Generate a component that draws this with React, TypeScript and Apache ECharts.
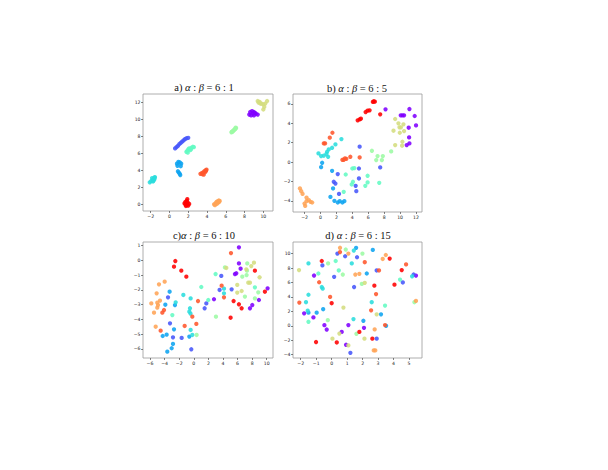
import React, { useEffect, useRef } from 'react';
import * as echarts from 'echarts';

// class colours (matplotlib "rainbow", 10 classes)
const classColors = ['#8000ff', '#4757fb', '#0ea4f0', '#2adddd', '#63fbc3', '#9cfba4', '#d4dd80', '#ffa457', '#ff572c', '#ff0000'];

// a) α:β = 6:1  (one list of points per class)
const panelA: number[][][] = [
  [[8.5,10.6],[8.6,10.9],[8.8,11.0],[9.0,10.9],[9.2,10.7],[9.4,10.6],[8.7,10.5],[9.0,10.5],[9.1,10.8],[8.9,10.7]],
  [[0.6,6.6],[0.75,6.75],[0.9,6.9],[1.05,7.1],[1.2,7.25],[1.35,7.4],[1.5,7.55],[1.65,7.7],[1.8,7.8],[2.0,7.85]],
  [[0.8,4.8],[0.95,5.0],[1.1,4.95],[1.25,4.8],[0.85,4.55],[1.2,4.5],[0.9,3.9],[1.0,3.75],[1.1,3.6],[1.15,3.45]],
  [[-2.1,2.6],[-1.95,2.75],[-1.8,2.9],[-1.65,3.05],[-1.55,3.2],[-1.7,2.8],[-1.6,2.95],[-1.85,3.1],[-1.75,2.7],[-1.6,3.15]],
  [[1.8,6.2],[1.9,6.3],[2.0,6.5],[2.1,6.6],[2.2,6.4],[2.35,6.7],[2.5,6.8],[2.6,6.75],[1.95,6.1],[2.3,6.5]],
  [[6.6,8.5],[6.7,8.6],[6.8,8.7],[6.9,8.8],[7.0,8.9],[7.1,9.0],[6.75,8.6],[6.95,8.85],[7.05,9.05],[6.65,8.55]],
  [[9.4,12.2],[9.6,12.1],[9.8,11.9],[10.0,11.8],[10.2,11.9],[10.4,12.2],[10.1,11.5],[10.0,11.2],[9.7,11.9],[9.5,12.0]],
  [[4.75,0.0],[4.9,0.1],[5.0,0.25],[5.1,0.35],[5.25,0.45],[5.35,0.4],[4.85,-0.1],[5.05,0.05],[5.2,0.2],[5.3,0.3]],
  [[3.3,3.6],[3.45,3.7],[3.6,3.75],[3.7,3.9],[3.85,4.0],[3.95,4.1],[3.5,3.55],[3.8,3.8],[3.65,3.5],[3.9,3.95]],
  [[1.9,0.6],[1.85,0.4],[1.7,0.3],[1.6,0.1],[1.7,0.0],[1.85,-0.1],[2.0,-0.15],[2.1,0.05],[1.75,-0.2],[1.95,0.2]],
];

// b) α:β = 6:5
const panelB: number[][][] = [
  [[8.17,5.45],[10.08,4.83],[10.3,4.83],[10.5,4.83],[11.17,5.48],[11.83,4.76],[11.08,3.55],[12.0,3.79],[11.13,2.55],[10.83,1.76],[11.17,1.93]],
  [[4.92,1.59],[4.83,-0.66],[2.17,-1.24],[4.83,-1.69],[1.67,-2.03],[1.88,-2.21],[4.42,-2.45],[4.5,-3.0],[2.33,-3.28],[7.5,-0.55]],
  [[0.21,-0.07],[0.08,-0.52],[1.46,-0.9],[1.58,-2.72],[1.25,-3.59],[1.75,-4.0],[2.17,-4.17],[2.42,-4.03],[2.75,-4.17],[3.0,-4.03]],
  [[-0.25,0.9],[0.08,0.62],[0.42,0.66],[0.83,1.07],[0.96,0.55],[1.04,1.31],[1.46,1.48],[1.88,1.83],[2.63,2.38],[0.75,0.85]],
  [[4.0,-0.66],[4.25,-0.62],[3.17,-1.28],[4.08,-2.03],[3.92,-2.31],[2.92,-3.07],[5.92,-1.41],[5.63,-2.45],[5.92,-2.1],[7.38,-2.14]],
  [[6.46,1.17],[7.17,0.62],[7.0,0.21],[7.83,0.62],[7.71,0.21],[8.88,1.1]],
  [[9.38,4.45],[9.79,4.0],[9.92,3.59],[10.1,3.59],[10.42,3.9],[10.5,3.2],[9.96,3.03],[9.17,3.24],[9.38,1.76],[10.29,2.1],[10.25,1.69]],
  [[-2.58,-2.72],[-2.42,-3.0],[-2.25,-3.28],[-1.75,-3.66],[-2.0,-4.28],[-1.75,-4.03],[-1.46,-3.93],[-1.25,-4.1],[-1.04,-4.17],[-1.92,-4.52]],
  [[0.42,1.93],[0.58,1.93],[1.17,2.52],[1.5,3.03],[2.75,0.24],[2.92,0.24],[3.08,0.38],[3.25,0.34],[3.75,0.55],[4.92,0.48]],
  [[4.67,4.31],[4.92,4.41],[5.08,4.48],[5.67,5.17],[5.92,5.31],[6.17,5.34],[6.58,6.21],[6.83,6.24],[6.7,6.28],[7.5,4.93]],
];

// c) α:β = 6:10
const panelC: number[][][] = [
  [[6.19,0.89],[6.19,-0.2],[6.42,-0.56],[5.64,-0.92],[5.83,-0.87],[10.12,-1.89],[8.93,-2.68],[8.02,-3.02],[7.7,-3.24],[2.77,-2.63]],
  [[-3.53,-2.5],[-3.26,-4.26],[-2.85,-5.21],[-1.66,-5.25],[-0.34,-6.02],[1.49,-3.24],[1.72,-2.91],[3.54,-2.0],[5.19,-1.96],[3.77,-1.05]],
  [[-3.31,-2.12],[-2.71,-4.67],[-4.26,-5.12],[-3.72,-5.03],[-2.85,-5.66],[-3.03,-5.95],[-3.63,-6.18],[-0.61,-5.16],[-3.9,-3.0],[-2.58,-3.02]],
  [[-1.43,-2.34],[-0.43,-2.57],[-2.48,-2.84],[-0.52,-3.24],[-0.61,-3.47],[-0.43,-4.71],[-0.2,-5.05],[4.14,-1.91],[4.14,-2.23],[-0.45,-3.6]],
  [[2.99,-0.92],[8.38,-1.82],[1.03,-1.8],[1.99,-2.68],[-2.94,-3.7]],
  [[4.27,-0.47],[7.33,-0.2],[6.65,-1.1],[7.29,-0.69],[7.01,-2.45],[8.38,-2.57],[8.84,-2.16],[3.04,-3.81],[0.39,-5.05],[7.24,-0.99]],
  [[8.25,-0.15],[7.88,-0.38],[4.46,-0.51],[7.2,-0.6],[9.02,-1.14],[7.47,-1.51],[7.7,-1.51],[5.96,-1.66],[6.56,-2.07],[5.96,-2.18]],
  [[-4.77,-1.62],[-3.99,-1.44],[-5.09,-2.23],[-5.82,-2.91],[-4.63,-2.72],[-4.9,-3.02],[-5.45,-3.54],[-5.22,-4.49],[-5.0,-2.86],[-5.0,-3.2]],
  [[-4.08,-3.36],[-4.31,-3.54],[-4.54,-4.76],[-1.25,-4.44],[-0.2,-3.81],[0.35,-4.3],[0.58,-2.75],[5.1,0.5],[3.82,-1.71],[4.14,-2.5]],
  [[-2.53,-0.04],[-2.71,-0.42],[-1.71,-0.69],[-1.02,-1.1],[8.38,-0.69],[9.75,-2.12],[5.46,-2.75],[6.19,-2.97],[6.56,-3.24],[5.05,-3.88]],
];

// d) α:β = 6:15
const panelD: number[][][] = [
  [[-1.14,6.96],[-1.78,1.73],[-1.18,1.17],[-0.47,0.09],[-0.32,-0.51],[0.65,-0.84],[2.09,-0.28],[0.93,-2.62],[5.45,6.95],[1.08,0.1]],
  [[0.37,10.0],[0.87,9.63],[1.64,9.49],[-0.6,8.36],[0.16,6.78],[1.45,5.37],[2.91,7.66],[4.6,6.0],[2.91,-1.78],[1.21,-3.74],[5.3,7.1]],
  [[1.58,10.79],[2.66,10.51],[2.27,7.24],[-1.5,1.82],[-0.97,1.82],[2.05,0.7],[3.19,1.59],[3.52,0.0],[-0.55,2.3]],
  [[1.43,10.42],[-1.5,8.64],[1.3,8.64],[-1.5,4.3],[-1.66,3.27],[-0.64,5.37],[-0.58,5.14],[-1.55,2.1],[2.59,3.27],[5.2,6.85],[1.41,0.93]],
  [[-0.86,7.24],[0.26,8.97],[0.46,7.66],[3.45,2.8],[4.42,6.4],[-1.5,0.56]],
  [[0.91,10.56],[1.99,10.0],[-0.23,8.64],[0.72,7.1],[-0.25,0.79],[5.35,3.27],[1.95,5.8],[1.6,-1.1]],
  [[-2.11,7.71],[0.76,2.52],[0.05,-1.78],[2.12,-1.78],[1.08,-2.71],[2.14,5.95],[2.91,1.59],[0.5,-1.07]],
  [[0.54,10.8],[1.08,10.0],[1.53,7.1],[1.79,7.2],[3.5,9.8],[3.3,9.25],[2.78,-0.5],[2.72,-3.4],[2.82,-3.4],[5.45,3.45]],
  [[0.54,10.2],[-0.81,6.03],[2.14,8.8],[2.87,4.39],[2.55,2.15],[3.45,0.1],[4.81,8.5],[3.06,7.66],[-0.1,4.0],[-2.09,3.22]],
  [[-0.64,8.97],[3.75,9.3],[4.53,7.71],[4.06,5.7],[2.76,5.56],[-1.01,-2.24],[0.33,-2.3],[1.79,-0.84],[2.63,-1.78],[0.0,3.13]],
];

// tick labels
const xTicksA = [-2, 0, 2, 4, 6, 8, 10];
const yTicksA = [0, 2, 4, 6, 8, 10, 12];
const xTicksB = [-2, 0, 2, 4, 6, 8, 10, 12];
const yTicksB = [-4, -2, 0, 2, 4, 6];
const xTicksC = [-6, -4, -2, 0, 2, 4, 6, 8, 10];
const yTicksC = [-6, -5, -4, -3, -2, -1, 0, 1];
const xTicksD = [-2, -1, 0, 1, 2, 3, 4, 5];
const yTicksD = [-4, -2, 0, 2, 4, 6, 8, 10];

const titlePrefixes = ['a) ', 'b) ', 'c)', 'd) '];
const titleRatios = ['6 : 1', '6 : 5', '6 : 10', '6 : 15'];

const App: React.FC = () => {
  const ref = useRef<HTMLDivElement>(null);
  useEffect(() => {
    if (!ref.current) return;
    const chart = echarts.init(ref.current, undefined, { renderer: 'svg' });
    const panels = [panelA, panelB, panelC, panelD];
    const grids = [
      { left: 143, top: 94, width: 130, height: 117 },
      { left: 293, top: 94, width: 129, height: 118 },
      { left: 143, top: 242, width: 130, height: 116 },
      { left: 293, top: 242, width: 129, height: 116 },
    ];
    const xr = [[-2.82, 11.03], [-3.45, 12.75], [-6.96, 10.86], [-2.5, 5.84]];
    const yr = [[-0.79, 13.03], [-5.15, 7.03], [-6.61, 1.25], [-4.45, 11.6]];
    const xt = [xTicksA, xTicksB, xTicksC, xTicksD];
    const yt = [yTicksA, yTicksB, yTicksC, yTicksD];
    const fmt = (v: number) => String(v).replace('-', '\u2212');
    const axisCommon = (ticks: number[]) => ({
      type: 'value' as const,
      axisLine: { show: false, onZero: false },
      splitLine: { show: false },
      axisTick: { show: true, inside: false, length: 2, customValues: ticks, lineStyle: { color: '#333', width: 0.6 } },
      axisLabel: { show: true, customValues: ticks, fontSize: 4.6, color: '#222', margin: 2.5, fontFamily: 'DejaVu Sans', formatter: fmt },
    });
    const series: any[] = [];
    panels.forEach((p, pi) => {
      p.forEach((pts, ci) => {
        series.push({
          type: 'scatter',
          xAxisIndex: pi,
          yAxisIndex: pi,
          data: pts,
          symbolSize: 4.3,
          itemStyle: { color: classColors[ci], opacity: 0.88 },
          silent: true,
        });
      });
    });
    const titleCenters = [[204, 87.5], [357, 88.5], [204, 235.5], [358, 235.5]];
    const graphics = titleCenters.map((c, i) => ({
      type: 'text',
      x: c[0],
      y: c[1],
      style: {
        text: `{n|${titlePrefixes[i]}}{i|α}{n| : }{i|β}{n| = ${titleRatios[i]}}`,
        textAlign: 'center',
        textVerticalAlign: 'middle',
        rich: {
          n: { fontFamily: 'Liberation Serif', fontSize: 10.5, fill: '#111' },
          i: { fontFamily: 'Liberation Serif', fontStyle: 'italic', fontSize: 10.5, fill: '#111' },
        },
      },
    }));
    chart.setOption({
      animation: false,
      backgroundColor: '#ffffff',
      grid: grids.map((g) => ({ ...g, show: true, borderColor: '#999', borderWidth: 0.8, backgroundColor: 'transparent' })),
      xAxis: grids.map((_, i) => ({ ...axisCommon(xt[i]), gridIndex: i, min: xr[i][0], max: xr[i][1] })),
      yAxis: grids.map((_, i) => ({ ...axisCommon(yt[i]), gridIndex: i, min: yr[i][0], max: yr[i][1] })),
      series,
      graphic: graphics,
    });
    return () => chart.dispose();
  }, []);
  return <div ref={ref} style={{ position: 'fixed', left: 0, top: 0, width: 608, height: 470 }} />;
};

export default App;
